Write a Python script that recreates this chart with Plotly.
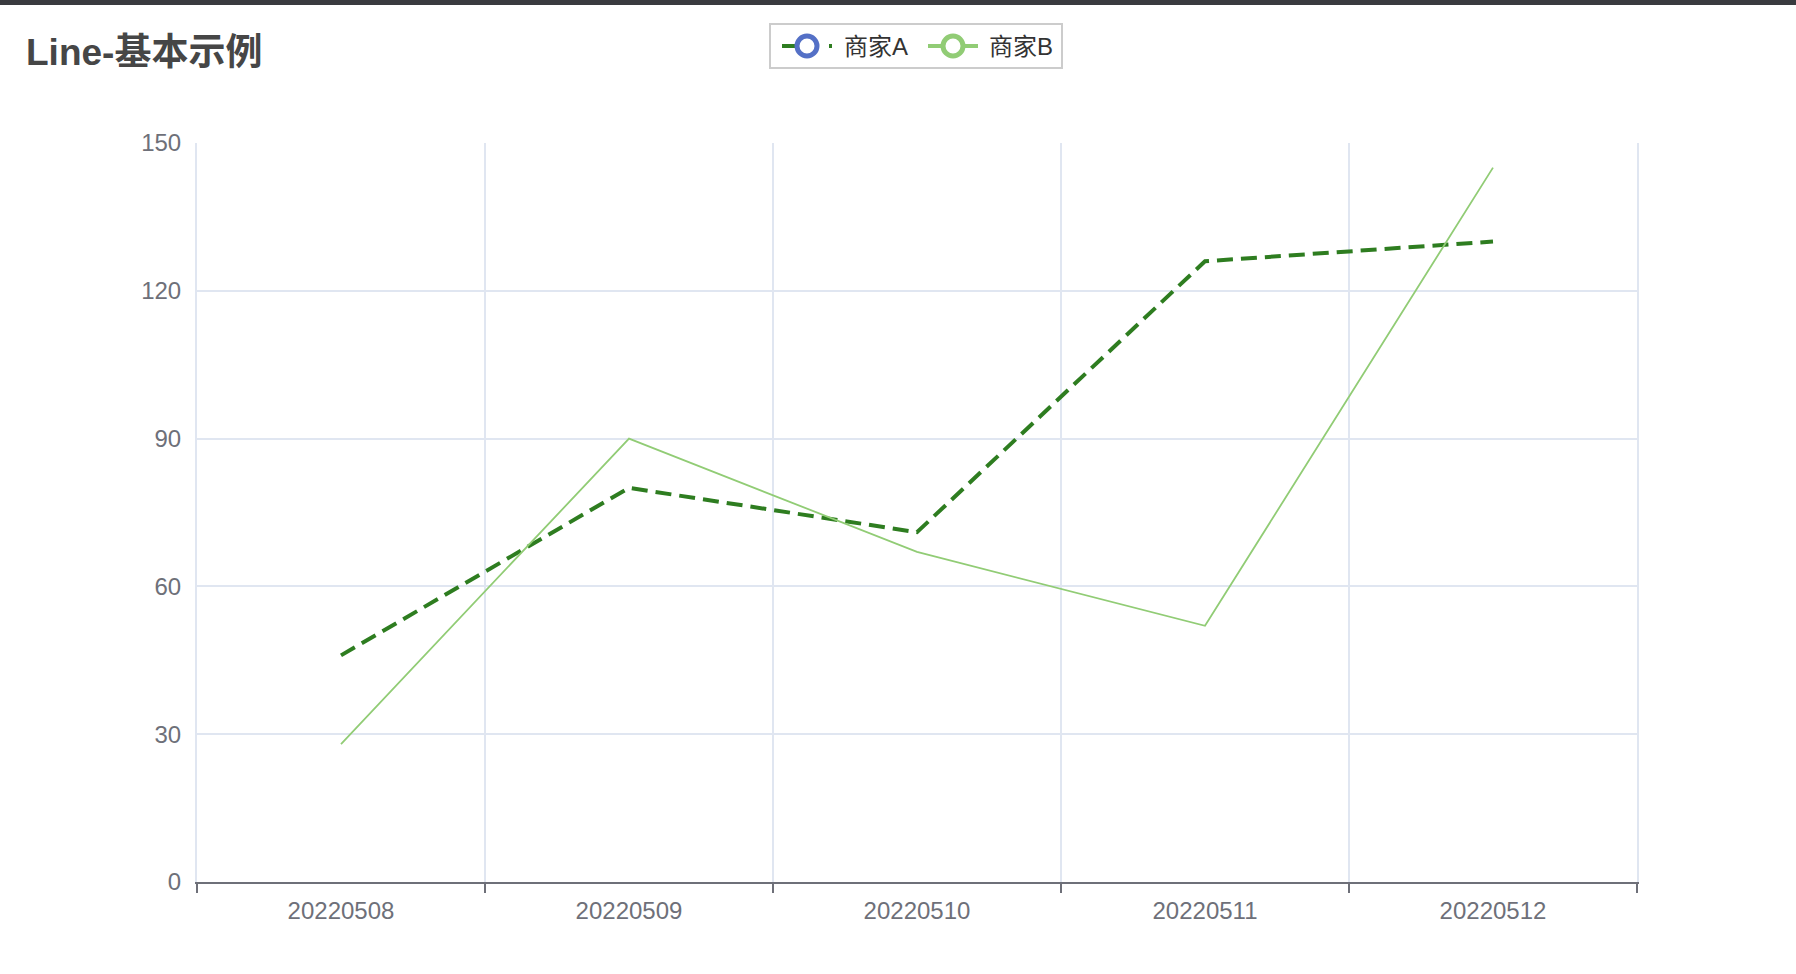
import plotly.graph_objects as go

# data
dates = ["20220508", "20220509", "20220510", "20220511", "20220512"]
shop_a = [46, 80, 71, 126, 130]
shop_b = [28, 90, 67, 52, 145]
y_ticks = [0, 30, 60, 90, 120, 150]
series_names = ["商家A", "商家B"]

COLOR_A = "#2E7D20"
COLOR_B = "#91CC75"
LEGEND_DOT_A = "#5470C6"
AXIS = "#6E7079"
GRID = "#E0E6F1"
FONT = "Liberation Sans, Noto Sans CJK SC, sans-serif"

W, H = 1796, 974
M = dict(l=197, r=159, t=143, b=92)
PW = W - M["l"] - M["r"]
PH = H - M["t"] - M["b"]


def px_x(px):
    return (px - M["l"]) / PW


def px_y(py):
    return (H - M["b"] - py) / PH


fig = go.Figure()

fig.add_trace(go.Scatter(x=dates, y=shop_a, mode="lines", name=series_names[0],
                         line=dict(color=COLOR_A, width=4, dash="16px,8px"),
                         hoverinfo="x+y+name"))
fig.add_trace(go.Scatter(x=dates, y=shop_b, mode="lines", name=series_names[1],
                         line=dict(color=COLOR_B, width=1.8),
                         hoverinfo="x+y+name"))

# hand-drawn legend, echarts style (line + big hollow circle)
leg_y = 46
shapes = [
    # dark top bar of the page
    dict(type="rect", xref="paper", yref="paper", x0=-1, x1=2,
         y0=px_y(5), y1=px_y(-1), fillcolor="#3A3B3F", line=dict(width=0), layer="above"),
    # legend box
    dict(type="rect", xref="paper", yref="paper", x0=px_x(770), x1=px_x(1062),
         y0=px_y(68), y1=px_y(24), line=dict(color="#CCCCCC", width=2)),
    # 商家A symbol: dashed line pieces + blue circle
    dict(type="line", xref="paper", yref="paper", x0=px_x(782), x1=px_x(797),
         y0=px_y(leg_y), y1=px_y(leg_y), line=dict(color=COLOR_A, width=4)),
    dict(type="line", xref="paper", yref="paper", x0=px_x(829), x1=px_x(832),
         y0=px_y(leg_y), y1=px_y(leg_y), line=dict(color=COLOR_A, width=4)),
    dict(type="circle", xref="paper", yref="paper", x0=px_x(797), x1=px_x(817),
         y0=px_y(leg_y + 10), y1=px_y(leg_y - 10), fillcolor="white",
         line=dict(color=LEGEND_DOT_A, width=5)),
    # 商家B symbol
    dict(type="line", xref="paper", yref="paper", x0=px_x(928), x1=px_x(978),
         y0=px_y(leg_y), y1=px_y(leg_y), line=dict(color=COLOR_B, width=4)),
    dict(type="circle", xref="paper", yref="paper", x0=px_x(943), x1=px_x(963),
         y0=px_y(leg_y + 10), y1=px_y(leg_y - 10), fillcolor="white",
         line=dict(color=COLOR_B, width=5)),
]
annotations = [
    dict(text=series_names[0], xref="paper", yref="paper", x=px_x(842), y=px_y(leg_y),
         xanchor="left", yanchor="middle", showarrow=False,
         font=dict(size=24, color="#333333", family=FONT)),
    dict(text=series_names[1], xref="paper", yref="paper", x=px_x(987), y=px_y(leg_y),
         xanchor="left", yanchor="middle", showarrow=False,
         font=dict(size=24, color="#333333", family=FONT)),
]

fig.update_layout(
    width=W, height=H,
    margin=M,
    showlegend=False,
    paper_bgcolor="white", plot_bgcolor="white",
    font=dict(family=FONT, size=24, color=AXIS),
    title=dict(text="<b>Line-基本示例</b>", x=26 / W, xanchor="left",
               xref="container", y=1 - 39 / H, yanchor="top", yref="container",
               font=dict(size=37, color="#464646", family=FONT)),
    xaxis=dict(type="category", range=[-0.5, 4.5], tickson="boundaries",
               ticks="outside", ticklen=9, tickwidth=2, tickcolor=AXIS,
               showline=True, linecolor=AXIS, linewidth=2,
               showgrid=True, gridcolor=GRID, gridwidth=2,
               tickfont=dict(size=24, color=AXIS), ticklabelstandoff=6),
    yaxis=dict(range=[0, 150], tickvals=y_ticks, zeroline=False,
               showline=True, linecolor=GRID, linewidth=2, mirror=True,
               showgrid=True, gridcolor=GRID, gridwidth=2, ticks="",
               tickfont=dict(size=24, color=AXIS), ticklabelstandoff=9),
    shapes=shapes,
    annotations=annotations,
    hovermode="x",
)

fig.write_html("out.html", config={"displayModeBar": False},
               post_script="document.body.style.margin='0';")
